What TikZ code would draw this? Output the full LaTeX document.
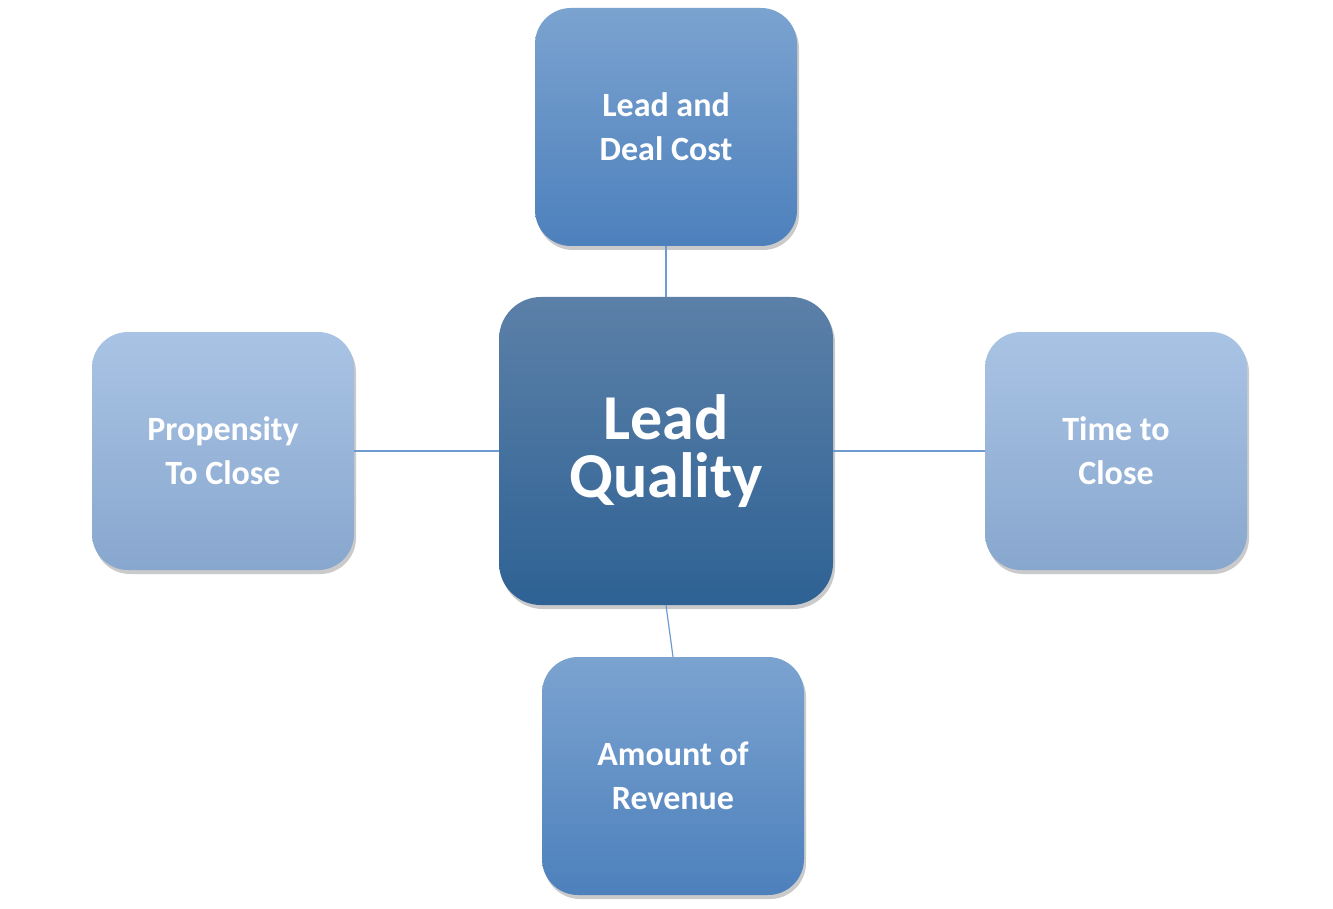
\documentclass[tikz,border=0pt]{standalone}
\usepackage{fontspec}
\setmainfont{Carlito}
\usetikzlibrary{shadows}
\definecolor{midtop}{HTML}{7BA3D0}
\definecolor{midbot}{HTML}{4D80BC}
\definecolor{ctop}{HTML}{5C80A8}
\definecolor{cbot}{HTML}{2E6294}
\definecolor{ltop}{HTML}{A9C3E4}
\definecolor{lbot}{HTML}{88A7CE}
\definecolor{linec}{HTML}{6E9BD0}
\tikzset{
  box/.style={rounded corners=36pt, minimum width=262pt, minimum height=238pt, inner sep=0pt,
    align=center, text=white, font=\fontsize{34}{44}\selectfont\bfseries,
    drop shadow={shadow xshift=2pt, shadow yshift=-4pt, opacity=0.35, fill=black!60}},
  midbox/.style={box, top color=midtop, bottom color=midbot},
  litebox/.style={box, top color=ltop, bottom color=lbot},
  cbox/.style={box, minimum width=334pt, minimum height=308pt, rounded corners=42pt,
    top color=ctop, bottom color=cbot, font=\fontsize{64}{58}\selectfont\bfseries},
  conn/.style={draw=linec, line width=1.2pt}
}
\begin{document}
\begin{tikzpicture}[x=1pt,y=-1pt]
\useasboundingbox (0,0) rectangle (1333,909);
\node[cbox] (c) at (666,451) {Lead\\Quality};
\node[midbox] (t) at (666,127) {Lead and\\Deal Cost};
\node[midbox] (b) at (673,776) {Amount of\\Revenue};
\node[litebox] (l) at (223,451) {Propensity\\To Close};
\node[litebox] (r) at (1116,451) {Time to\\Close};
\draw[conn] (t.south) -- (c.north);
\draw[conn] (c.south) -- (b.north);
\draw[conn] (l.east) -- (c.west);
\draw[conn] (c.east) -- (r.west);
\end{tikzpicture}
\end{document}
